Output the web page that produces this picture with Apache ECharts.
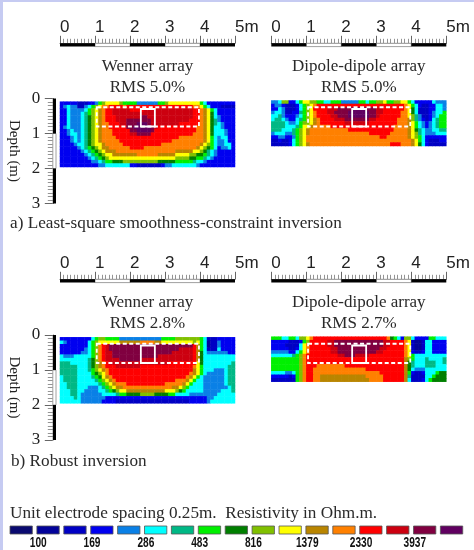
<!DOCTYPE html>
<html lang="en" style="height: 100%">
<head>
  <meta charset="utf-8">
</head>
<body style="height: 100%; margin: 0; background: #fff">
  <div id="container" style="width: 474px; height: 550px"></div>

  <script type="text/javascript" src="https://cdn.jsdelivr.net/npm/echarts@6/dist/echarts.min.js"></script>
  <script type="text/javascript">
    // one char per cell = resistivity class (0-9, a-g), cells are 0.1m x 0.1m
    var wennerLS = [
      '33333 22233 479aa aa977 77444 44477 9aaaa aaaaa 75333 33333',
      '34544 22457 9accd dddcd ddddd ddddd ddddd dddcc a7533 32222',
      '33544 44579 abcdd eeeee dddde eeeee eeeee eeedd cba75 33333',
      '33544 45679 abcdd eeeee eeeee eeeee eeeee eeedd cba85 33333',
      '33544 45689 abcdd deeee eeeff eeeee eeeee eeedd cba85 43333',
      '33544 45689 abcdd deeef fffff feeee eeeee eeddd cba86 43333',
      '33544 45689 abccd ddeef ffggg feeee eeeed ddddd cba86 54333',
      '34544 45689 abccd ddddf fgggg gfedd ddddd ddddc cba85 54333',
      '33454 45689 abccc ddddd ffggg gfddd ddddd ddddc cba85 55433',
      '33455 45689 abccc ddddd eefff fdddd ddddd dddcc cba85 55433',
      '33345 45689 abccc cdddd ddddd ddddd ddddc ccccc cba75 45533',
      '33345 45689 abccc ccddd ddddd ddddd ddccc ccccc cba75 44533',
      '33334 55689 aabcc cccdd ddddd ddddc ccccc ccccc ba975 44553',
      '33333 45678 9abbc ccccc ddddc ccccc ccccc ccccb a9875 34453',
      '33333 34567 89abb bcccc ccccc ccccc cccbb bbbaa 98654 33333',
      '33333 33456 789aa bbbbb bbccc cccbb bbbaa aa998 87654 33333',
      '33333 33345 6789a aaaaa aaaaa aaaaa aaa99 99887 76543 33333',
      '33333 33334 45677 88899 99999 99988 88877 77765 54333 33333',
      '33333 33333 34455 55555 33222 22223 44555 55554 33333 33333'
    ];
    var dipoleLS = [
      '44599 3357a a9977 55777 44444 77577 99a77 99aa7 53333 35444',
      '34432 22357 9acdd ddddd ddddd ddddd ddddd dddca 75322 33554',
      '33542 22357 9addd deeef fffgg ggfff eeddd dddca 85222 33554',
      '45542 23367 9acdd deeff ffggg gggff eeddd ddcca 85222 34557',
      '55643 33457 9acdd ddeef ffggg gggff edddd ddcca 96422 34577',
      '56654 33567 9abcd dddee effff fffee ddddd dcccb 96432 35677',
      '66665 44579 9abcd ddddd deeee eeedd ddddd dcccb a7543 45677',
      '66665 5567a abccc ccddd ddddd ddddd ddddd ccccb a7543 45677',
      '66655 5679a bcccc ccccc ccddd ddddd ddddd ccccb a8654 45566',
      '45554 4679a bcccc ccccc ccccc cccdd ddddc ccccb a9654 44555',
      '33443 3479a ccccc ccccc ccccc ccccc cddcc ccccb a9753 33333',
      '22322 3579a ccccc ccccc ccccc ccccc ccccc ccccc ba753 22233',
      '22222 3579a bcccc ccccc ccccc ccccc ccccd ddccc ba853 22222'
    ];
    var wennerRobust = [
      '33333 33335 79977 77444 44444 44447 77799 99999 75222 33333',
      '54333 33357 9aaaa aabbb bbbcc ccbba aaaaa aaa9a 75122 43333',
      '33333 33357 9cdef fffff fffff fffff fffff fffdb 75122 43333',
      '33333 33457 9cdef fffff fffff fffff ffffe eeedb 75222 53333',
      '33333 34457 9cdee fffff fffff fffff ffeee eeedb 85444 44433',
      '54445 55557 9cdee fffff fffff fffee eeeee eeedb 85555 55555',
      '55555 55568 9cdee eefff fffee eeeee eeeee eeedb 85555 55555',
      '66655 55568 9bcde eeeee eeeee eeeee edddd dddda 85555 55556',
      '66666 55568 9bcdd deeee eeedd ddddd ddddd dddca 75555 55566',
      '66666 55567 9abcd ddddd ddddd ddddd ddddd dddba 75554 44566',
      '66666 55557 89acd ddddd ddddd ddddd ddddd ddcba 75444 44566',
      '56666 55556 78abc ddddd ddddd ddddd ddddd dcba7 54444 44566',
      '56666 55555 679ab cdddd ddddd ddddd dddcc cba75 54444 44566',
      '55666 55555 5679a bcccd ddddd ddddd ccccc ba755 54444 44566',
      '55666 55544 45679 abbcc ccccc ccccc ccbba 97555 54444 44456',
      '55566 55444 45567 89aab bbbbb bbbbb aaa98 75555 54444 45556',
      '55566 54444 44555 56778 88899 99888 87755 55444 44444 55555',
      '55556 54444 44433 33333 33333 33333 33333 33333 33445 55555',
      '55555 54444 44333 32222 22222 22222 22222 22333 33455 55555'
    ];
    var dipoleRobust = [
      '77755 77599 acddd ddddd ddddd ddddd dddc8 75399 53333 77555',
      '33333 22237 9dddd deeff fffff fffff ffeed dddca 21125 53333',
      '33332 2225a cdddd deeff fffff fffff ffeed dddca 21125 53333',
      '33333 2235a cdddd ddeef fffff fffff feedd dddca 21125 53333',
      '44444 3357a cdddd ddeef fffff fffff eeddd dddca 32235 53333',
      '55555 5679c ddddd dddde efffe eeedd ddddd dddca 75555 55555',
      '77777 7779c ddddd ddddd ddddd ddddd ddddd dddb9 75556 55556',
      '77777 7779c ddddd ddddd ddddd ddddd ddddd dddb8 65556 66556',
      '77777 7779c dddcc ccccc cdddd ddddd ddddd dddb8 65556 66555',
      '77777 7779c ddccc ccccc ccccc ccddd ddddd dddb8 54445 55555',
      '55554 4579c ddccc ccccc ccccc ccccc cdddd dddb7 32235 55788',
      '33333 2379c ddccb bbbbb bbbbb bbccc ccddd dddb6 22225 57888',
      '22222 2279c ddccb bbbbb bbbbb bbbcc ccddd dddb5 22235 78888'
    ];

    var panelTitles = ['Wenner array', 'Dipole-dipole array', 'Wenner array', 'Dipole-dipole array'];
    var panelRms = ['RMS 5.0%', 'RMS 5.0%', 'RMS 2.8%', 'RMS 2.7%'];
    var captionA = 'a) Least-square smoothness-constraint inversion';
    var captionB = 'b) Robust inversion';
    var legendTitle = 'Unit electrode spacing 0.25m.  Resistivity in Ohm.m.';
    var legendTicks = ['100', '169', '286', '483', '816', '1379', '2330', '3937'];
    var classColors = ['#0a0a70', '#02029a', '#0000c4', '#0000f0', '#0a80e6', '#00ffff', '#00b885', '#00f000',
      '#007f00', '#80c000', '#ffff00', '#b98500', '#ff8000', '#ff0000', '#cc0010', '#800040', '#600060'];
    // metres: x0, x1, depth0, depth1
    var targetZone = [1.05, 3.97, 0.25, 0.8];
    var objectBox = [2.31, 2.71, 0.3, 0.8];
    var blackSegments = [[0, 1], [2, 3], [4, 5]];
    var whiteSegments = [[1, 2], [3, 4]];
    var depthBlack = [[0, 1], [2, 3]];
    var depthWhite = [[1, 2]];

    var SERIF = '"Liberation Serif", serif';
    var SANS = '"Liberation Sans", sans-serif';

    var panels = [
      { rows: wennerLS, x: 60, y: 101.7, h: 65.3, top: 98.5, scaleY: 43.3, titleY: 56, depth: true },
      { rows: dipoleLS, x: 271.3, y: 100.5, h: 45.5, top: 98.5, scaleY: 43.3, titleY: 56 },
      { rows: wennerRobust, x: 60, y: 337.3, h: 66, top: 335, scaleY: 279.3, titleY: 292, depth: true },
      { rows: dipoleRobust, x: 271.3, y: 336.7, h: 45, top: 335, scaleY: 279.3, titleY: 292 }
    ];

    function rowsToData(rows) {
      var out = [];
      rows.forEach(function (row, r) {
        row.replace(/ /g, '').split('').forEach(function (ch, c) {
          out.push([c, r, parseInt(ch, 36)]);
        });
      });
      return out;
    }

    function range(n) {
      var a = [];
      for (var i = 0; i < n; i++) a.push(i);
      return a;
    }

    var grid = [], xAxis = [], yAxis = [], series = [], title = [], heatIdx = [];

    function addGrid(g, x, y) {
      grid.push(g);
      x.gridIndex = grid.length - 1;
      y.gridIndex = grid.length - 1;
      xAxis.push(x);
      yAxis.push(y);
      return grid.length - 1;
    }

    // vertical or horizontal thick scale segments, drawn through the axes
    function segmentSeries(idx, segs, vertical, fill, stroke) {
      series.push({
        type: 'custom', xAxisIndex: idx, yAxisIndex: idx, clip: false, silent: true, z: 5,
        data: segs,
        renderItem: function (params, api) {
          var a = api.value(0), b = api.value(1), p0, p1;
          if (vertical) {
            p0 = api.coord([0, a]); p1 = api.coord([1, b]);
          } else {
            p0 = api.coord([a, 0]); p1 = api.coord([b, 1]);
          }
          return {
            type: 'rect',
            shape: { x: p0[0], y: Math.min(p0[1], p1[1]), width: p1[0] - p0[0], height: Math.abs(p1[1] - p0[1]) },
            style: { fill: fill, stroke: stroke, lineWidth: stroke ? 0.8 : 0 }
          };
        }
      });
    }

    panels.forEach(function (p, i) {
      // resistivity section
      var nCols = p.rows[0].replace(/ /g, '').length;
      var h = addGrid({ left: p.x, top: p.y, width: 175, height: p.h },
        { type: 'category', data: range(nCols), show: false },
        { type: 'category', data: range(p.rows.length), inverse: true, show: false });
      heatIdx.push(series.length);
      series.push({
        type: 'heatmap', xAxisIndex: h, yAxisIndex: h, data: rowsToData(p.rows),
        progressive: 0, silent: true, itemStyle: { borderWidth: 0 }, emphasis: { disabled: true }
      });

      // overlay in metres for the dashed target zone and the object box
      var o = addGrid({ left: p.x, top: p.top, width: 175, height: 105 },
        { type: 'value', min: 0, max: 5, show: false },
        { type: 'value', min: 0, max: 3, inverse: true, show: false });
      [[targetZone, [4, 2.5]], [objectBox, null]].forEach(function (b) {
        series.push({
          type: 'custom', xAxisIndex: o, yAxisIndex: o, silent: true, z: 6, data: [b[0]],
          renderItem: function (params, api) {
            var a = api.coord([api.value(0), api.value(2)]);
            var c = api.coord([api.value(1), api.value(3)]);
            return {
              type: 'rect',
              shape: { x: a[0], y: a[1], width: c[0] - a[0], height: c[1] - a[1] },
              style: { fill: 'none', stroke: '#fff', lineWidth: 1.8, lineDash: b[1] }
            };
          }
        });
      });

      // distance scale above the panel
      var s = addGrid({ left: p.x, top: p.scaleY, width: 175, height: 3.3 },
        {
          type: 'value', min: 0, max: 5, interval: 1, position: 'top',
          axisLine: { show: true, onZero: false, lineStyle: { color: '#444', width: 0.8 } },
          axisTick: { show: true, length: 7.5, lineStyle: { color: '#555', width: 0.9 } },
          minorTick: { show: true, splitNumber: 10, length: 4.5, lineStyle: { color: '#666', width: 0.7 } },
          splitLine: { show: false },
          axisLabel: {
            show: true, margin: 7.5, align: 'left', color: '#222', fontFamily: SANS, fontSize: 17,
            showMinLabel: true, showMaxLabel: true,
            formatter: function (v) { return v === 5 ? '5m' : String(v); }
          }
        },
        { type: 'value', min: 0, max: 1, show: false });
      segmentSeries(s, whiteSegments, false, '#fff', '#888');
      segmentSeries(s, blackSegments, false, '#000');

      // depth scale, left panels only
      if (p.depth) {
        var d = addGrid({ left: 52.8, top: p.top, width: 3.2, height: 105 },
          { type: 'value', min: 0, max: 1, show: false },
          {
            type: 'value', min: 0, max: 3, interval: 1, inverse: true, position: 'left',
            name: 'Depth (m)', nameLocation: 'middle', nameRotate: -90, nameGap: 31,
            nameTextStyle: { fontFamily: SERIF, fontSize: 15, color: '#222' },
            axisLine: { show: true, onZero: false, lineStyle: { color: '#555', width: 0.8 } },
            axisTick: { show: true, length: 8, lineStyle: { color: '#555', width: 0.9 } },
            minorTick: { show: true, splitNumber: 10, length: 5, lineStyle: { color: '#666', width: 0.7 } },
            splitLine: { show: false },
            axisLabel: { show: true, margin: 12.5, color: '#222', fontFamily: SERIF, fontSize: 17 }
          });
        segmentSeries(d, depthWhite, true, '#fff', '#888');
        segmentSeries(d, depthBlack, true, '#000');
      }

      title.push({
        text: panelTitles[i] + '\n' + panelRms[i], left: p.x + 87.5, top: p.titleY, textAlign: 'center', padding: 0,
        textStyle: { fontFamily: SERIF, fontSize: 17, fontWeight: 'normal', color: '#2a2a2a', lineHeight: 21 }
      });
    });

    // colour key
    var k = addGrid({ left: 10, top: 526, width: 457.3, height: 8 },
      { type: 'value', min: 0, max: 17, show: false },
      { type: 'value', min: 0, max: 1, show: false });
    series.push({
      type: 'custom', xAxisIndex: k, yAxisIndex: k, silent: true,
      data: classColors.map(function (c, i) { return [i]; }),
      renderItem: function (params, api) {
        var i = api.value(0);
        var a = api.coord([i, 1]), b = api.coord([i + 0.83, 0]);
        return {
          type: 'rect',
          shape: { x: a[0], y: a[1], width: b[0] - a[0], height: b[1] - a[1] },
          style: { fill: classColors[i], stroke: '#555', lineWidth: 0.8 }
        };
      }
    });
    // narrow bold key labels, no condensed font is installed so squeeze them
    series.push({
      type: 'custom', xAxisIndex: k, yAxisIndex: k, silent: true, clip: false,
      data: legendTicks.map(function (t, i) { return [2 * i + 1.05]; }),
      renderItem: function (params, api) {
        var c = api.coord([api.value(0), 0]);
        return {
          type: 'text', x: c[0], y: c[1] + 9, scaleX: 0.7,
          style: {
            text: legendTicks[params.dataIndex], align: 'center', verticalAlign: 'middle',
            fill: '#111', font: 'bold 14.5px "Liberation Sans", sans-serif'
          }
        };
      }
    });

    [[captionA, 10, 215], [captionB, 11, 453], [legendTitle, 10, 505]].forEach(function (t) {
      title.push({
        text: t[0], left: t[1], top: t[2], padding: 0,
        textStyle: { fontFamily: SERIF, fontSize: 17.2, fontWeight: 'normal', color: '#2a2a2a' }
      });
    });

    var myChart = echarts.init(document.getElementById('container'), null, { renderer: 'canvas' });
    myChart.setOption({
      animation: false,
      backgroundColor: '#fff',
      title: title,
      grid: grid,
      xAxis: xAxis,
      yAxis: yAxis,
      visualMap: {
        show: false, type: 'piecewise', seriesIndex: heatIdx, dimension: 2,
        pieces: classColors.map(function (c, i) { return { value: i, color: c }; })
      },
      graphic: [
        { type: 'rect', silent: true, shape: { x: 0, y: 0, width: 474, height: 2 }, style: { fill: '#c6cbf2' } },
        { type: 'rect', silent: true, shape: { x: 0, y: 0, width: 3, height: 550 }, style: { fill: '#c6cbf2' } }
      ],
      series: series
    });
  </script>
</body>
</html>
